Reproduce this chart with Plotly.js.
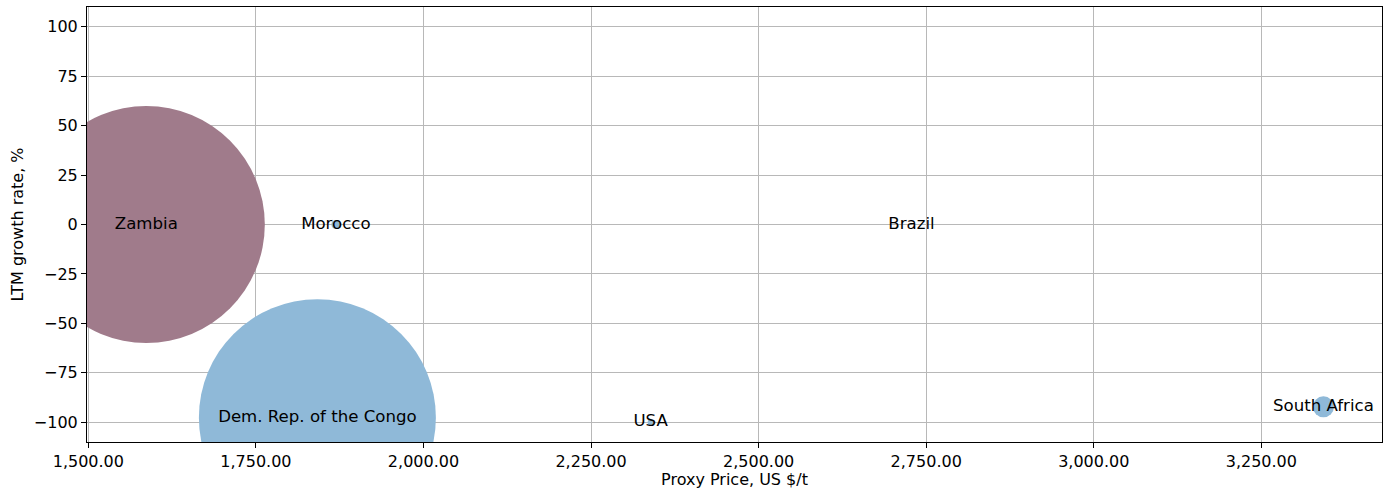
<!DOCTYPE html>
<html>
<head>
<meta charset="utf-8">
<script src="https://cdn.plot.ly/plotly-3.0.1.min.js"></script>
<style>html,body{margin:0;padding:0;background:#fff;}#chart{width:1389px;height:489px;}</style>
</head>
<body>
<div id="chart"></div>
<script>
// Data
const countries = ["Zambia", "Dem. Rep. of the Congo", "Morocco", "Brazil", "USA", "South Africa"];
const proxyPrice = [1586.5, 1841.7, 1869.3, 2728, 2338.9, 3342.6];
const growthRate = [0, -97.7, 0, 0, -100, -92.2];
const bubbleSize = [237, 237, 9, 0, 6, 21];
const pointColors = ["#a07b8b", "#8fb9d8", "#8fb9d8", "#8fb9d8", "#8fb9d8", "#8fb9d8"];
const xTickVals = [1500, 1750, 2000, 2250, 2500, 2750, 3000, 3250];
const yTickVals = [-100, -75, -50, -25, 0, 25, 50, 75, 100];

const font = {family: "DejaVu Sans", size: 16, color: "#000"};

const traces = [
  {
    type: "scatter",
    mode: "markers",
    x: proxyPrice,
    y: growthRate,
    marker: {size: bubbleSize, sizemode: "diameter", color: pointColors, opacity: 1, line: {width: 0}},
    hoverinfo: "skip",
    showlegend: false
  },
  {
    type: "scatter",
    mode: "text",
    x: proxyPrice,
    y: growthRate,
    text: countries,
    textposition: "middle center",
    textfont: {family: "DejaVu Sans", size: 16.6, color: "#000"},
    cliponaxis: false,
    hoverinfo: "skip",
    showlegend: false
  }
];

const axisCommon = {
  showline: true, linecolor: "#000", linewidth: 1, mirror: true,
  showgrid: true, gridcolor: "#b8b8b8", gridwidth: 1,
  zeroline: false,
  ticks: "outside", ticklen: 5, tickwidth: 1, tickcolor: "#000",
  tickfont: font
};

const layout = {
  width: 1389, height: 489,
  margin: {l: 87, r: 7, t: 7, b: 47},
  paper_bgcolor: "#fff", plot_bgcolor: "#fff",
  font: font,
  xaxis: Object.assign({}, axisCommon, {
    range: [1498, 3430],
    tickvals: xTickVals,
    tickformat: ",.2f",
    title: {text: "Proxy Price, US $/t", font: font, standoff: 6}
  }),
  yaxis: Object.assign({}, axisCommon, {
    range: [-110, 110],
    tickvals: yTickVals,
    title: {text: "LTM growth rate, %", font: font, standoff: 6}
  }),
  showlegend: false
};

Plotly.newPlot("chart", traces, layout, {staticPlot: true, displayModeBar: false});
</script>
</body>
</html>
